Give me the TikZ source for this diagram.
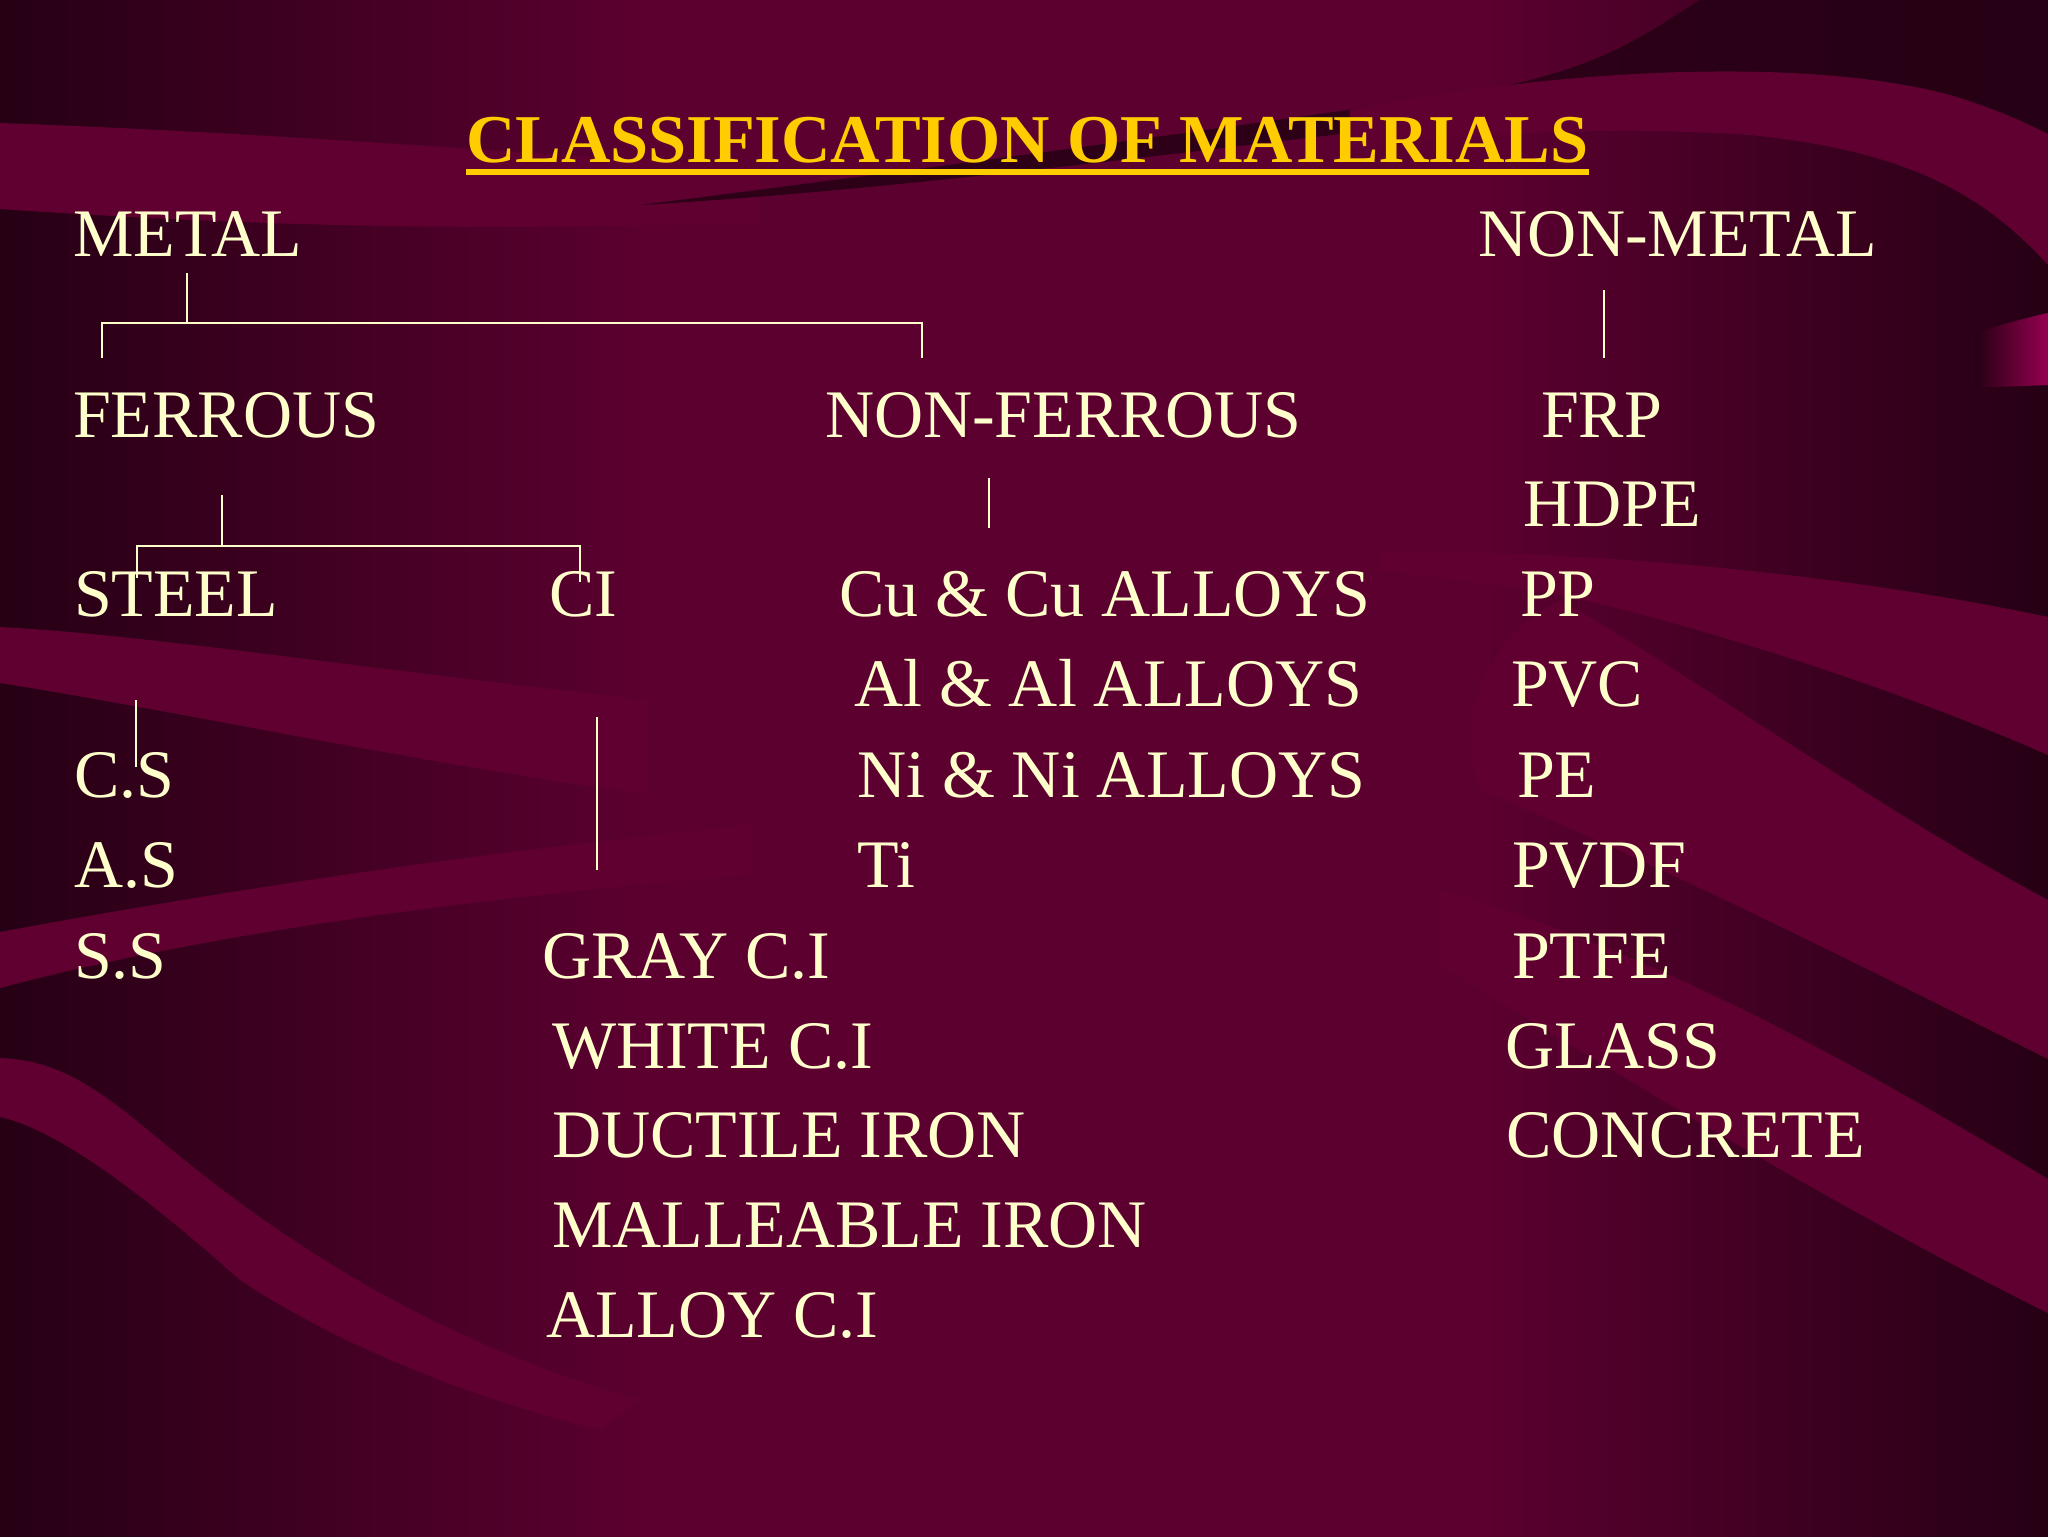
\documentclass[tikz,border=0pt]{standalone}
\usepackage{fontspec}
\setmainfont{Liberation Serif}
\definecolor{bgdk}{RGB}{38,0,20}
\definecolor{bgmr}{RGB}{92,0,48}
\definecolor{rib}{RGB}{95,0,49}
\definecolor{cream}{RGB}{255,255,204}
\definecolor{gold}{RGB}{255,204,0}
\definecolor{stubpink}{RGB}{150,0,80}
\pgfdeclarehorizontalshading{bgsh}{100bp}{color(0bp)=(bgdk); color(25bp)=(bgdk); color(41bp)=(bgmr); color(61bp)=(bgmr); color(75bp)=(bgdk); color(100bp)=(bgdk)}
\begin{document}
\begin{tikzpicture}[x=0.5bp,y=-0.5bp,
  lbl/.style={anchor=base west,inner sep=0pt,outer sep=0pt,text=cream,font=\fontsize{34bp}{40bp}\selectfont},
  ttl/.style={anchor=base west,inner sep=0pt,outer sep=0pt,text=gold,font=\fontsize{34.2bp}{40bp}\selectfont\bfseries},
  link/.style={draw=cream,line width=0.9bp},
  uline/.style={draw=gold,line width=3bp}]
\useasboundingbox (0,0) rectangle (2048,1536);
% ---------- background ----------
\shade[shading=bgsh] (0,0) rectangle (2048,1536);
% top-left ribbon
\fill[rib] (0,123) .. controls (250,132) and (480,150) .. (760,168) -- (760,222) .. controls (480,232) and (250,226) .. (0,209) -- cycle;
% dark streak under title and dark top-right corner
\fill[bgdk, opacity=0.85] (640,205) .. controls (900,172) and (1200,132) .. (1450,95) .. controls (1600,75) and (1650,30) .. (1700,0) -- (2048,0) -- (2048,140) .. controls (1900,90) and (1700,80) .. (1500,115) .. controls (1200,150) and (900,190) .. (640,205) -- cycle;
% top-right ribbon
\fill[rib] (1350,110) .. controls (1550,70) and (1800,55) .. (1950,95) .. controls (2000,110) and (2030,125) .. (2048,134) -- (2048,265) .. controls (1980,190) and (1900,150) .. (1750,135) .. controls (1600,125) and (1450,135) .. (1350,150) -- cycle;
% small stub at the right edge
\shade[left color=bgdk, right color=stubpink] (1975,333) .. controls (2000,325) and (2025,318) .. (2048,313) -- (2048,385) .. controls (2025,386) and (2000,387) .. (1975,387) -- cycle;
% right stripes
\fill[rib] (1380,552) .. controls (1600,550) and (1850,575) .. (2048,617) -- (2048,755) .. controls (1900,690) and (1700,625) .. (1560,595) .. controls (1500,585) and (1420,575) .. (1380,570) -- cycle;
\fill[rib] (1560,600) .. controls (1700,680) and (1880,810) .. (2048,900) -- (2048,1059) .. controls (1850,960) and (1650,860) .. (1480,790) .. controls (1450,700) and (1500,630) .. (1560,600) -- cycle;
\fill[rib] (1440,890) .. controls (1650,950) and (1850,1060) .. (2048,1179) -- (2048,1313) .. controls (1850,1215) and (1650,1095) .. (1440,965) -- cycle;
% left ribbons
\fill[rib] (0,627) .. controls (150,635) and (330,665) .. (650,700) -- (650,795) .. controls (400,760) and (200,715) .. (0,683) -- cycle;
\fill[rib] (0,932) .. controls (200,895) and (450,855) .. (750,825) -- (750,875) .. controls (450,900) and (200,935) .. (0,988) -- cycle;
\fill[rib] (0,1058) .. controls (60,1060) and (100,1090) .. (160,1140) .. controls (280,1240) and (430,1340) .. (640,1400) -- (600,1430) .. controls (420,1385) and (300,1320) .. (240,1280) .. controls (150,1200) and (60,1130) .. (0,1117) -- cycle;
% ---------- title ----------
\node[ttl] (title) at (466,162) {CLASSIFICATION OF MATERIALS};
\draw[uline] ([yshift=-5bp]title.base west) -- ([yshift=-5bp]title.base east);
% ---------- labels ----------
\node[lbl] (metal) at (73,256) {METAL};
\node[lbl] (nonmetal) at (1478,256) {NON-METAL};
\node[lbl] (ferrous) at (73,437) {FERROUS};
\node[lbl] (nonferrous) at (825,437) {NON-FERROUS};
\node[lbl] (frp) at (1541,437) {FRP};
\node[lbl] (hdpe) at (1523,526) {HDPE};
\node[lbl] (steel) at (74,616) {STEEL};
\node[lbl] (ci) at (549,616) {CI};
\node[lbl] (cu) at (839,616) {Cu \& Cu ALLOYS};
\node[lbl] (pp) at (1520,616) {PP};
\node[lbl] (al) at (854,706) {Al \& Al ALLOYS};
\node[lbl] (pvc) at (1511,706) {PVC};
\node[lbl] (cs) at (74,797) {C.S};
\node[lbl] (ni) at (857,797) {Ni \& Ni ALLOYS};
\node[lbl] (pe) at (1517,797) {PE};
\node[lbl] (as) at (74,887) {A.S};
\node[lbl] (ti) at (857,887) {Ti};
\node[lbl] (pvdf) at (1512,887) {PVDF};
\node[lbl] (ss) at (74,978) {S.S};
\node[lbl] (gray) at (542,978) {GRAY C.I};
\node[lbl] (ptfe) at (1512,978) {PTFE};
\node[lbl] (white) at (552,1068) {WHITE C.I};
\node[lbl] (glass) at (1505,1068) {GLASS};
\node[lbl] (ductile) at (552,1157) {DUCTILE IRON};
\node[lbl] (concrete) at (1506,1157) {CONCRETE};
\node[lbl] (malleable) at (552,1247) {MALLEABLE IRON};
\node[lbl] (alloyci) at (546,1337) {ALLOY C.I};
% ---------- connector points ----------
\coordinate (ms1) at (187,273);
\coordinate (ms2) at (187,323);
\coordinate (b1) at (102,358);
\coordinate (b2) at (102,323);
\coordinate (b3) at (922,323);
\coordinate (b4) at (922,358);
\coordinate (fs1) at (222,495);
\coordinate (fs2) at (222,546);
\coordinate (c1) at (137,578);
\coordinate (c2) at (137,546);
\coordinate (c3) at (580,546);
\coordinate (c4) at (580,582);
\coordinate (nf1) at (989,478);
\coordinate (nf2) at (989,528);
\coordinate (nm1) at (1604,290);
\coordinate (nm2) at (1604,358);
\coordinate (st1) at (136,700);
\coordinate (st2) at (136,767);
\coordinate (cl1) at (597,717);
\coordinate (cl2) at (597,870);
% ---------- connectors ----------
\draw[link] (ms1) -- (ms2);
\draw[link] (b1) -- (b2) -- (b3) -- (b4);
\draw[link] (fs1) -- (fs2);
\draw[link] (c1) -- (c2) -- (c3) -- (c4);
\draw[link] (nf1) -- (nf2);
\draw[link] (nm1) -- (nm2);
\draw[link] (st1) -- (st2);
\draw[link] (cl1) -- (cl2);
\end{tikzpicture}
\end{document}
